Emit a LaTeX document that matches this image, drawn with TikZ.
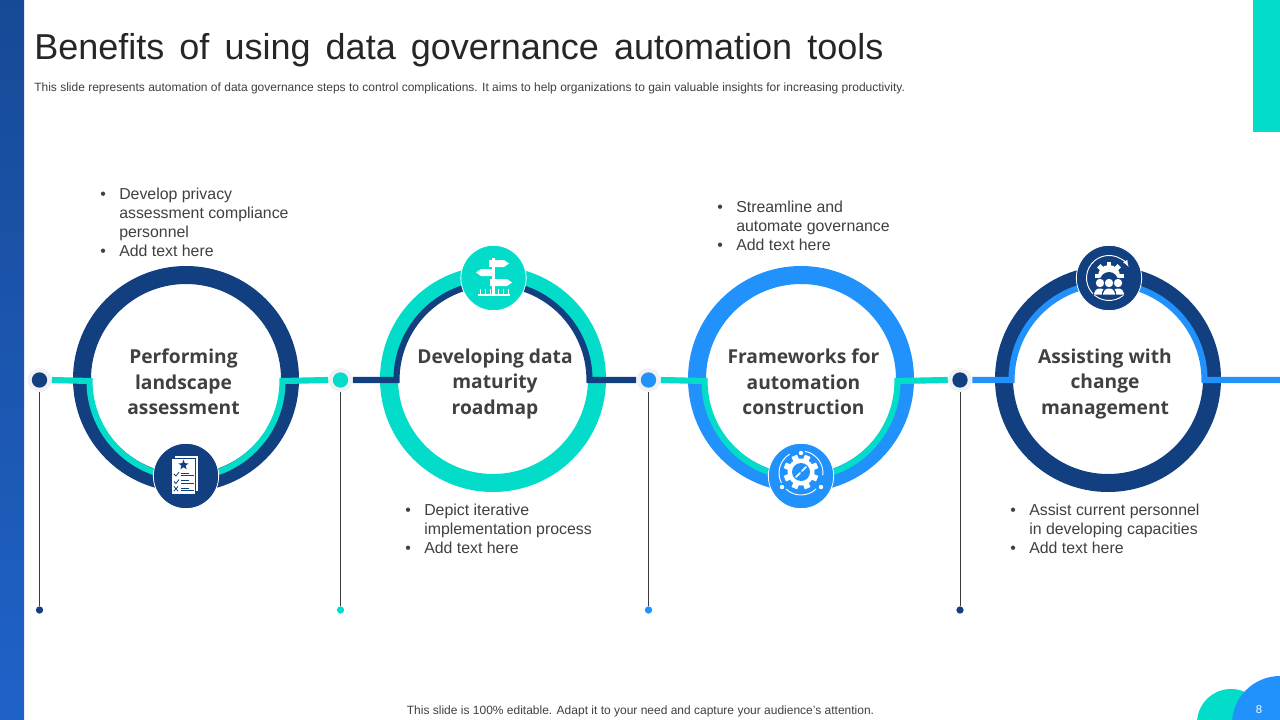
\documentclass[tikz,border=0pt]{standalone}
\usepackage{fontspec}
\setmainfont{Liberation Sans}
\newfontfamily\headfont{Open Sans}
\usetikzlibrary{shapes.geometric}

\definecolor{navy}{HTML}{123F80}
\definecolor{teal}{HTML}{03DCC8}
\definecolor{azure}{HTML}{2191FB}
\definecolor{halo}{HTML}{F1F1F3}
\definecolor{ink}{HTML}{404040}
\definecolor{bartop}{HTML}{174A96}
\definecolor{barbottom}{HTML}{1F62C8}

\tikzstyle{ringnode}=[circle, draw, line width=13.5pt, minimum size=156pt, inner sep=0pt]
\tikzstyle{iconnode}=[circle, draw=white, line width=0.6pt, minimum size=49pt, inner sep=0pt]
\tikzstyle{halonode}=[circle, fill=halo, minimum size=18pt, inner sep=0pt]
\tikzstyle{dotnode}=[circle, minimum size=11.5pt, inner sep=0pt]
\tikzstyle{enddot}=[circle, minimum size=5.5pt, inner sep=0pt]
\tikzstyle{link}=[line width=4.6pt, line join=miter]
\tikzstyle{drop}=[line width=0.6pt, color=ink!90!black]
\tikzstyle{headnode}=[align=center, text=ink, inner sep=0pt, font=\headfont\bfseries\fontsize{14.4}{19}\selectfont]
\tikzstyle{pointsnode}=[anchor=north west, align=left, text=ink, inner sep=0pt, font=\fontsize{11.9}{14.25}\selectfont]
\tikzstyle{smalltext}=[anchor=west, text=ink, inner sep=0pt, font=\fontsize{9}{11}\selectfont]
\tikzstyle{iconline}=[white, line width=0.9pt]

\newcommand{\bul}{\makebox[14.25pt][l]{\textbullet}}
\newcommand{\cont}{\hspace*{14.25pt}}

\begin{document}
\begin{tikzpicture}[x=0.75pt, y=-0.75pt]
  \clip (0,0) rectangle (1280,720);
  \fill[white] (0,0) rectangle (1280,720);
  \shade[top color=bartop, bottom color=barbottom] (0,0) rectangle (24,720);
  \fill[teal] (1253,0) rectangle (1280,132);
  \fill[teal] (1231,723) circle (34);
  \fill[azure] (1280,724) circle (48);

  \node[smalltext, font=\fontsize{27}{30}\selectfont, text=black!85] (title) at (34,50) {\spaceskip=0.42em Benefits of using data governance automation tools};
  \node[smalltext] (subtitle) at (34,88) {This slide represents automation of data governance steps to control complications. It aims to help organizations to gain valuable insights for increasing productivity.};
  \node[smalltext, anchor=center] (footer) at (640.5,711) {This slide is 100\% editable. Adapt it to your need and capture your audience's attention.};
  \node[white, inner sep=0pt, font=\fontsize{8.5}{10}\selectfont] (pageno) at (1259,710) {8};

  \foreach \nm/\x/\ringcol in {A/186/navy, B/493/teal, C/801/azure, D/1108/navy} {
    \node[ringnode, draw=\ringcol] (ring\nm) at (\x,379) {};
  }
  \foreach \nm/\x/\dotcol in {A/39.5/navy, B/340.5/teal, C/648.5/azure, D/960/navy} {
    \node[halonode] (halo\nm) at (\x,380) {};
    \node[dotnode, fill=\dotcol] (dot\nm) at (\x,380) {};
    \node[enddot, fill=\dotcol] (end\nm) at (\x,610) {};
    \draw[drop] (halo\nm.south) -- (end\nm);
  }
  \coordinate (pageedge) at (1280,380);

  \draw[link, teal] (haloA.east) -- (89.5,381) arc (180:0:96.5) -- (haloB.west);
  \draw[link, navy] (haloB.east) -- (396.5,380) arc (180:360:96.5) -- (haloC.west);
  \draw[link, teal] (haloC.east) -- (704.5,381) arc (180:0:96.5) -- (haloD.west);
  \draw[link, azure] (haloD.east) -- (1011.5,380) arc (180:360:96.5) -- (pageedge);

  \node[iconnode, fill=navy] (iconA) at (186,476) {};
  \node[iconnode, fill=teal] (iconB) at (493.5,278) {};
  \node[iconnode, fill=azure] (iconC) at (801,476) {};
  \node[iconnode, fill=navy] (iconD) at (1109,278) {};

  \node[headnode] (headA) at (183.5,382) {Performing\\landscape\\assessment};
  \node[headnode] (headB) at (495,384) {Developing data\\maturity\\roadmap};
  \node[headnode] (headC) at (803.5,382) {Frameworks for\\automation\\construction};
  \node[headnode] (headD) at (1105,384) {Assisting with\\change\\management};

  \node[pointsnode] (pointsA) at (100,188) {\bul Develop privacy\\\cont assessment compliance\\\cont personnel\\\bul Add text here};
  \node[pointsnode] (pointsB) at (405,504) {\bul Depict iterative\\\cont implementation process\\\bul Add text here};
  \node[pointsnode] (pointsC) at (717,201) {\bul Streamline and\\\cont automate governance\\\bul Add text here};
  \node[pointsnode] (pointsD) at (1010,504) {\bul Assist current personnel\\\cont in developing capacities\\\bul Add text here};

  % checklist
  \fill[white] (175,456) rectangle (198,491);
  \draw[navy, line width=0.5pt, fill=white] (171,458) rectangle (195,494);
  \node[star, star points=5, star point ratio=2.4, fill=navy, minimum size=8pt, inner sep=0pt] (iconAstar) at (183.5,465) {};
  \foreach \y in {474,481.5} {
    \draw[navy, line width=0.6pt] (174,\y) -- (176,\y+2) -- (179,\y-2);
    \draw[navy, line width=0.6pt] (181,\y-1) -- (189,\y-1) (181,\y+1.5) -- (194,\y+1.5);
  }
  \draw[navy, line width=0.6pt] (174,486.5) -- (178,491) (178,486.5) -- (174,491);
  \draw[navy, line width=0.6pt] (181,488) -- (189,488) (181,490) -- (194,490);

  % signpost
  \fill[white] (491.5,258) rectangle (494.5,295);
  \fill[white] (489,260) -- (504,260) -- (509,263.5) -- (504,267) -- (489,267) -- cycle;
  \fill[white] (493,269) -- (481,269) -- (476,272.5) -- (481,276) -- (493,276) -- cycle;
  \fill[white] (490,279) -- (507,279) -- (512,282.5) -- (507,286) -- (490,286) -- cycle;
  \draw[iconline] (478,295) -- (510,295);
  \foreach \x in {480,485,490,498,503,508} {
    \draw[iconline, line width=0.7pt] (\x,295) -- (\x,289);
  }

  % gear with links
  \foreach \a in {0,45,...,315} {
    \draw[white, line width=4.5pt] (801,472) ++(\a+22.5:11) -- ++(\a+22.5:6.5);
  }
  \fill[white] (801,472) circle (13.5);
  \fill[azure] (801,472) circle (9);
  \draw[white, line width=1.3pt, line cap=round] (796,477) -- (800,473) (802,471) -- (806,467);
  \foreach \a in {-80,47,153} {
    \draw[iconline, line width=0.7pt] (801,473) ++(\a:22) arc (\a:\a+86:22);
  }
  \foreach \dx/\dy in {801/453, 782/487, 821/487} {
    \fill[white] (\dx,\dy) circle (2.2);
  }

  % team with cycle
  \draw[-latex, white, line width=0.7pt] (1109,278) ++(50:22.5) arc (50:330:22.5);
  \foreach \a in {0,45,...,315} {
    \draw[white, line width=3.5pt] (1109,276) ++(\a:9) -- ++(\a:5.5);
  }
  \fill[white] (1109,276) circle (11);
  \fill[navy] (1109,281) circle (9);
  \foreach \x in {1100,1118,1109} {
    \fill[navy] (\x,283) circle (5.3);
    \fill[white] (\x,283) circle (4.2);
    \fill[navy] (\x-7,295) -- (\x-7,293) arc (180:360:7 and 5.5) -- (\x+7,295) -- cycle;
    \fill[white] (\x-6,294.5) -- (\x-6,293.5) arc (180:360:6 and 5) -- (\x+6,294.5) -- cycle;
  }
\end{tikzpicture}
\end{document}
